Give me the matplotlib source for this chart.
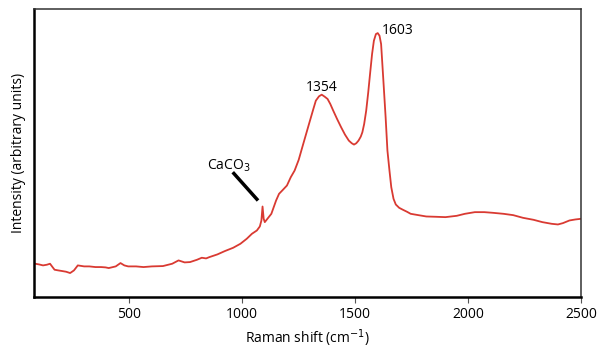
import matplotlib.pyplot as plt

plt.rcParams['font.family'] = ['Open Sans', 'DejaVu Sans']

# Raman spectrum (intensity in arbitrary units)
shift = [83, 100, 118, 135, 149, 160, 169, 185, 203, 220, 238, 255, 272, 300, 323,
         350, 375, 395, 409, 440, 461, 478, 495, 530, 563, 600, 649, 690, 718, 745,
         769, 800, 821, 840, 855, 890, 923, 960, 992, 1020, 1043, 1065, 1078, 1085,
         1090, 1095, 1100, 1115, 1129, 1150, 1163, 1180, 1198, 1215, 1232, 1250,
         1266, 1283, 1300, 1315, 1326, 1340, 1352, 1365, 1378, 1390, 1403, 1420,
         1438, 1455, 1472, 1485, 1495, 1505, 1515, 1525, 1532, 1540, 1549, 1558,
         1566, 1575, 1583, 1592, 1600, 1608, 1615, 1626, 1635, 1643, 1652, 1660,
         1670, 1680, 1695, 1712, 1730, 1746, 1780, 1815, 1860, 1900, 1950, 1986,
         2030, 2072, 2110, 2157, 2200, 2243, 2290, 2329, 2370, 2398, 2420, 2449,
         2475, 2500]
intensity = [100, 98, 95, 97, 100, 90, 82, 80, 78, 76, 72, 80, 95, 92, 92,
             90, 90, 89, 87, 92, 102, 95, 92, 92, 90, 92, 93, 100, 110, 104,
             105, 112, 118, 116, 120, 128, 138, 148, 160, 175, 190, 200, 212, 230,
             272, 235, 225, 238, 250, 290, 310, 322, 335, 360, 380, 412,
             450, 490, 530, 565, 590, 603, 608, 602, 595, 580, 560, 535,
             510, 488, 470, 462, 458, 462, 470, 482, 495, 520, 560, 615,
             670, 730, 770, 790, 793, 785, 760, 640, 540, 440, 380, 330,
             295, 278, 268, 262, 256, 250, 246, 242, 241, 240, 244, 250,
             255, 255, 253, 250, 246, 238, 232, 225, 220, 218, 222, 230,
             233, 235]

peak_labels = ["1354", "1603"]
peak_pos = [(1280, 608), (1618, 778)]

fig = plt.figure(figsize=(6.06, 3.51), dpi=100)
ax = fig.add_axes([0.0561, 0.1538, 0.9026, 0.8202])

ax.plot(shift, intensity, color="#d93a32", lw=1.3)

ax.set_xlim(78, 2500)
ax.set_ylim(0, 865)
ax.set_xticks([500, 1000, 1500, 2000, 2500])
ax.set_yticks([])
ax.tick_params(axis="x", direction="out", length=4, width=0.8, color="#555555",
               labelsize=10, pad=3)
# left/bottom heavier, top/right thin grey
ax.spines["left"].set_linewidth(1.8)
ax.spines["bottom"].set_linewidth(1.8)
for s in ["top", "right"]:
    ax.spines[s].set_linewidth(1.1)
    ax.spines[s].set_color("#333333")

for lab, (px, py) in zip(peak_labels, peak_pos):
    ax.text(px, py, lab, fontsize=10, ha="left", va="bottom")

ax.text(845, 395, "CaCO$_3$", fontsize=10, ha="left", va="center")
ax.plot([958, 1070], [375, 290], color="black", lw=2.5, solid_capstyle="butt")

ax.set_xlabel("Raman shift (cm$^{-1}$)", fontsize=10, labelpad=4)
ax.set_ylabel("Intensity (arbitrary units)", fontsize=10, labelpad=6)

fig.savefig("out.png", dpi=100)
